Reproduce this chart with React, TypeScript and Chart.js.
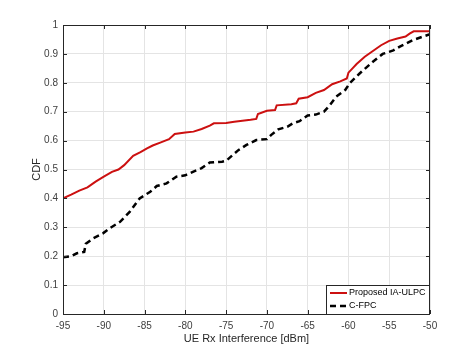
import React, { useEffect, useRef } from "react";
import { Chart, registerables } from "chart.js";

Chart.register(...registerables);

const proposedX = [-95, -94, -93, -92, -91, -90, -89, -88.2, -87.5, -86.4, -85.5, -84.7, -84, -83, -82, -81.3, -80, -79, -78, -77, -76.5, -75, -74, -73, -72, -71.3, -71.1, -70, -69, -68.8, -67, -66.4, -66.1, -65, -64, -63, -62, -61, -60.2, -60, -59.5, -59, -58, -57, -56, -55, -54, -53, -52.5, -52, -50];
const proposedY = [0.4, 0.413, 0.427, 0.438, 0.458, 0.475, 0.492, 0.5, 0.515, 0.547, 0.56, 0.573, 0.583, 0.594, 0.605, 0.623, 0.628, 0.631, 0.64, 0.652, 0.66, 0.661, 0.665, 0.669, 0.672, 0.675, 0.692, 0.703, 0.706, 0.722, 0.726, 0.729, 0.745, 0.75, 0.765, 0.775, 0.795, 0.805, 0.815, 0.835, 0.85, 0.865, 0.89, 0.91, 0.93, 0.945, 0.953, 0.96, 0.97, 0.978, 0.978];

const cfpcX = [-95, -94, -93.3, -92.4, -92.2, -91.3, -90.1, -89.2, -88, -86.8, -85.6, -84.3, -83.5, -82.3, -81.1, -80, -79, -78, -77, -75.5, -75, -73.5, -72.5, -71.3, -70, -69.5, -68.6, -67.5, -66.8, -66, -65, -64, -63, -62.3, -61.5, -60.4, -59.8, -58.6, -57, -55.8, -54.5, -53.7, -52.1, -50];
const cfpcY = [0.196, 0.2, 0.21, 0.215, 0.243, 0.262, 0.279, 0.298, 0.319, 0.354, 0.4, 0.423, 0.443, 0.452, 0.475, 0.48, 0.493, 0.505, 0.524, 0.527, 0.53, 0.567, 0.585, 0.602, 0.605, 0.619, 0.639, 0.648, 0.66, 0.667, 0.687, 0.69, 0.7, 0.722, 0.752, 0.775, 0.8, 0.833, 0.873, 0.9, 0.912, 0.925, 0.948, 0.968];

const xTicks = [-95, -90, -85, -80, -75, -70, -65, -60, -55, -50];
const yTicks = [0, 0.1, 0.2, 0.3, 0.4, 0.5, 0.6, 0.7, 0.8, 0.9, 1];
const yTickLabels = ["0", "0.1", "0.2", "0.3", "0.4", "0.5", "0.6", "0.7", "0.8", "0.9", "1"];
const seriesNames = ["Proposed IA-ULPC", "C-FPC"];

const FONT = "'Liberation Sans', Arial, sans-serif";
const RED = "#cc1010";

const frame = {
  id: "frame",
  afterDraw(chart: any) {
    const { ctx, chartArea: a, scales } = chart;
    ctx.save();
    ctx.strokeStyle = "#262626";
    ctx.lineWidth = 1;
    ctx.strokeRect(a.left + 0.5, a.top + 0.5, a.right - a.left - 1, a.bottom - a.top);
    ctx.beginPath();
    for (const v of xTicks) {
      const x = Math.round(scales.x.getPixelForValue(v)) + 0.5;
      ctx.moveTo(x, a.bottom); ctx.lineTo(x, a.bottom - 4);
      ctx.moveTo(x, a.top); ctx.lineTo(x, a.top + 4);
    }
    for (const v of yTicks) {
      const y = Math.round(scales.y.getPixelForValue(v)) + 0.5;
      ctx.moveTo(a.left, y); ctx.lineTo(a.left + 4, y);
      ctx.moveTo(a.right, y); ctx.lineTo(a.right - 4, y);
    }
    ctx.stroke();
    // legend
    const lx = a.right - 104, ly = a.bottom - 29, lw = 104, lh = 29;
    ctx.fillStyle = "#ffffff";
    ctx.fillRect(lx, ly, lw, lh);
    ctx.strokeStyle = "#262626";
    ctx.strokeRect(lx + 0.5, ly + 0.5, lw - 1, lh);
    ctx.lineWidth = 2;
    ctx.strokeStyle = RED;
    ctx.beginPath(); ctx.moveTo(lx + 4, ly + 8); ctx.lineTo(lx + 21, ly + 8); ctx.stroke();
    ctx.strokeStyle = "#000";
    ctx.lineWidth = 2.5;
    ctx.setLineDash([6, 4]);
    ctx.beginPath(); ctx.moveTo(lx + 4, ly + 21); ctx.lineTo(lx + 21, ly + 21); ctx.stroke();
    ctx.setLineDash([]);
    ctx.fillStyle = "#000";
    ctx.font = `9px ${FONT}`;
    ctx.textBaseline = "middle";
    ctx.textAlign = "left";
    ctx.fillText(seriesNames[0], lx + 23, ly + 8);
    ctx.fillText(seriesNames[1], lx + 23, ly + 21);
    ctx.restore();
  },
};

export default function App() {
  const ref = useRef<HTMLCanvasElement>(null);
  useEffect(() => {
    document.body.style.margin = "0";
    const chart = new Chart(ref.current!, {
      type: "line",
      data: {
        datasets: [
          {
            label: seriesNames[0],
            data: proposedX.map((x, i) => ({ x, y: proposedY[i] })),
            borderColor: RED,
            borderWidth: 2,
            pointRadius: 0,
            fill: false,
          },
          {
            label: seriesNames[1],
            data: cfpcX.map((x, i) => ({ x, y: cfpcY[i] })),
            borderColor: "#000",
            borderWidth: 2.5,
            borderDash: [6, 4],
            pointRadius: 0,
            fill: false,
          },
        ],
      },
      options: {
        responsive: false,
        animation: false,
        layout: { padding: { top: 25, right: 44, left: 30, bottom: 0 } },
        plugins: { legend: { display: false }, tooltip: { enabled: false } },
        scales: {
          x: {
            type: "linear",
            min: -95,
            max: -50,
            afterBuildTicks: (s: any) => { s.ticks = xTicks.map((v) => ({ value: v })); },
            afterFit: (s: any) => { s.height = 41; },
            ticks: { color: "#404040", font: { family: FONT, size: 10 }, padding: 6, maxRotation: 0 },
            grid: { color: "#e4e4e4", drawTicks: false },
            border: { display: false },
            title: { display: true, text: "UE Rx Interference [dBm]", color: "#262626", font: { family: FONT, size: 11 }, padding: { top: 0, bottom: 9 } },
          },
          y: {
            type: "linear",
            min: 0,
            max: 1,
            afterBuildTicks: (s: any) => { s.ticks = yTicks.map((v) => ({ value: v })); },
            afterFit: (s: any) => { s.width = 33; },
            ticks: {
              color: "#404040",
              font: { family: FONT, size: 10 },
              padding: 5,
              callback: (v: any) => { const i = yTicks.findIndex((t) => Math.abs(t - v) < 1e-9); return i >= 0 ? yTickLabels[i] : ""; },
            },
            grid: { color: "#e4e4e4", drawTicks: false },
            border: { display: false },
            title: { display: true, text: "CDF", color: "#262626", font: { family: FONT, size: 11 }, padding: { top: 0, bottom: 0 } },
          },
        },
      },
      plugins: [frame],
    });
    return () => chart.destroy();
  }, []);
  return (
    <div style={{ width: 474, height: 355 }}>
      <canvas ref={ref} width={474} height={355} />
    </div>
  );
}
